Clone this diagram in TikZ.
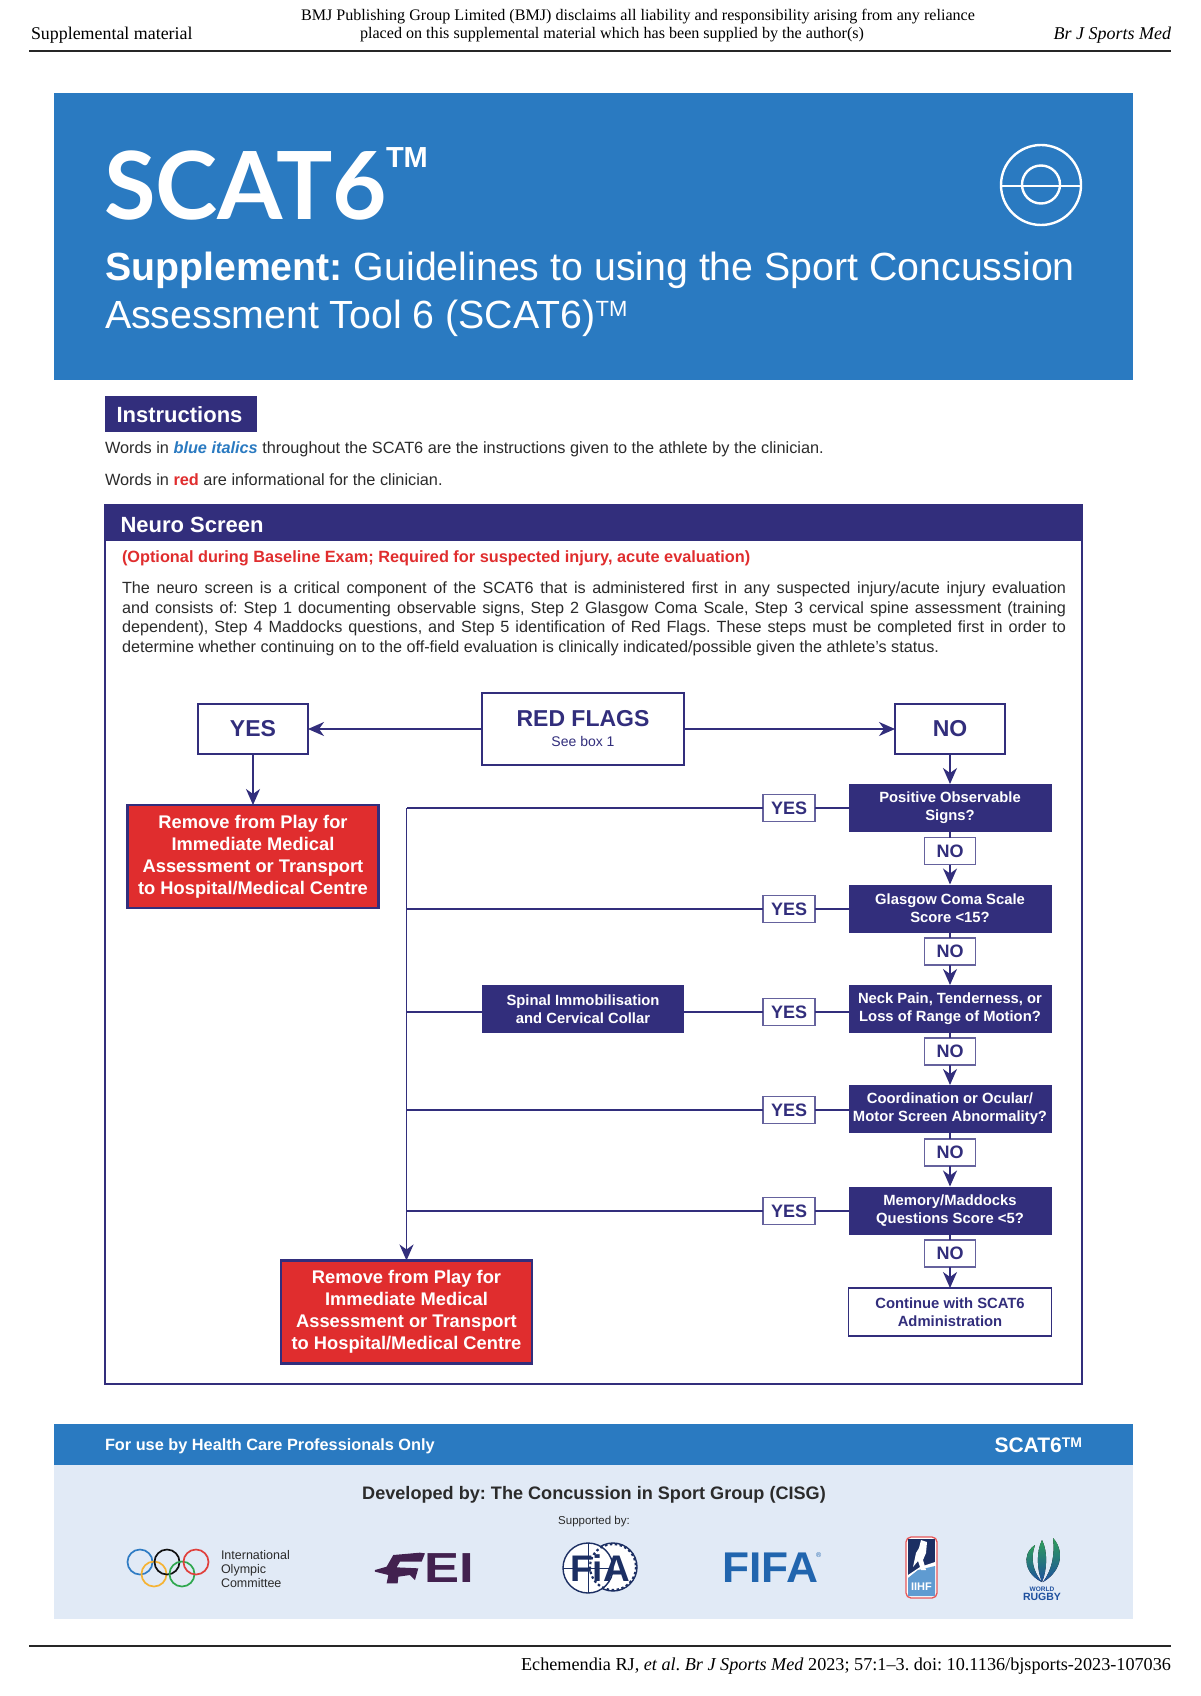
\documentclass[tikz,border=0pt]{standalone}
\usepackage{fontspec}
\setmainfont{Liberation Sans}
\newfontfamily\serifhead{Liberation Serif}
\newfontfamily\titlefont{Lato}
\usetikzlibrary{arrows.meta}
\frenchspacing
\definecolor{navy}{HTML}{322E7C}
\definecolor{scatblue}{HTML}{2A7AC1}
\definecolor{paleblue}{HTML}{E1EAF6}
\definecolor{flagred}{HTML}{E02D2E}
\definecolor{bodygrey}{HTML}{2B2B2B}
\definecolor{feipurple}{HTML}{42214F}
\definecolor{fifablue}{HTML}{2165AE}
\definecolor{fianavy}{HTML}{1C2F63}
\definecolor{wrgreen}{HTML}{2E9E5B}
\definecolor{wrblue}{HTML}{1D4F9E}
\newcommand{\sz}[2]{\fontsize{#1}{#2}\selectfont}
\tikzset{
  every node/.style={inner sep=0pt,outer sep=0pt},
  txt/.style={anchor=west,text=bodygrey},
  conn/.style={draw=navy,line width=1.6pt},
  arr/.style={conn,-{Stealth[length=16pt,width=14pt,inset=5pt]}},
  bigyn/.style={draw=navy,line width=1.5pt,fill=white,text=navy,minimum width=110pt,minimum height=50pt,font=\bfseries\sz{23}{27}},
  smallyn/.style={draw=navy!75,line width=1.2pt,fill=white,text=navy,minimum width=52pt,minimum height=27pt,font=\bfseries\sz{18}{20}},
  qbox/.style={fill=navy,text=white,minimum width=203pt,minimum height=48pt,align=center,font=\bfseries\sz{14.8}{18}},
  redbox/.style={draw=navy,line width=2.2pt,fill=flagred,text=white,minimum width=251pt,minimum height=103pt,align=center,font=\bfseries\sz{18.3}{22}},
}
\begin{document}
\begin{tikzpicture}[x=1pt,y=-1pt]
\useasboundingbox (0,0) rectangle (1200,1696);
\fill[white] (0,0) rectangle (1200,1696);
% running head
\node[txt,text=black,font=\serifhead\sz{17.9}{20}] (runl) at (31,35) {Supplemental material};
\node[anchor=center,text=black,font=\serifhead\sz{16.1}{18}] (disc1) at (638,17) {BMJ Publishing Group Limited (BMJ) disclaims all liability and responsibility arising from any reliance};
\node[anchor=center,text=black,font=\serifhead\sz{16.1}{18}] (disc2) at (612,34.5) {placed on this supplemental material which has been supplied by the author(s)};
\node[anchor=east,text=black,font=\serifhead\itshape\sz{18}{20}] (runr) at (1171,35) {Br J Sports Med};
\draw[line width=1.6pt,draw=black!85] (29,51) -- (1171,51);
% banner
\fill[scatblue] (54,93) rectangle (1133,380);
\node[anchor=west,text=white,font=\titlefont\bfseries\sz{94}{94}] (scat) at (104,186) {SCAT6};
\node[anchor=west,text=white,font=\bfseries\sz{29}{29}] (scattm) at (386,158) {TM};
\draw[white,line width=2.4pt] (1041,185) circle[radius=40];
\draw[white,line width=2.4pt] (1041,184.5) circle[radius=19];
\draw[white,line width=2.4pt] (1001,186) -- (1081,186);
\node[anchor=west,text=white,font=\sz{39.3}{40}] (sup1) at (105,270.5) {\textbf{Supplement:} Guidelines to using the Sport Concussion};
\node[anchor=west,text=white,font=\sz{39.3}{40}] (sup2) at (105,318.5) {Assessment Tool 6 (SCAT6)\raisebox{12pt}{\sz{22}{22}TM}};
% instructions
\fill[navy] (105,396) rectangle (257,432);
\node[text=white,font=\bfseries\sz{22}{24}] (inst) at (179.5,415) {Instructions};
\node[txt,font=\sz{16.3}{18}] (w1) at (105,449.5) {Words in {\color{scatblue}\bfseries\itshape blue italics} throughout the SCAT6 are the instructions given to the athlete by the clinician.};
\node[txt,font=\sz{16.3}{18}] (w2) at (105,479.5) {Words in {\color{flagred}\bfseries red} are informational for the clinician.};
% neuro screen frame
\draw[navy,line width=1.5pt] (105,505) rectangle (1082,1384);
\fill[navy] (105,505) rectangle (1082,541);
\node[anchor=west,text=white,font=\bfseries\sz{22}{24}] (neuro) at (120.5,525) {Neuro Screen};
\node[anchor=west,text=flagred,font=\bfseries\sz{16.3}{18}] (opt) at (122,558.5) {(Optional during Baseline Exam; Required for suspected injury, acute evaluation)};
\node[anchor=north west,text=bodygrey,text width=944pt,align=justify,font=\sz{16.2}{19.8}] (para) at (122,581.5) {The neuro screen is a critical component of the SCAT6 that is administered first in any suspected injury/acute injury evaluation\linebreak and consists of: Step 1 documenting observable signs, Step 2 Glasgow Coma Scale, Step 3 cervical spine assessment (training\linebreak dependent), Step 4 Maddocks questions, and Step 5 identification of Red Flags. These steps must be completed first in order to\linebreak determine whether continuing on to the off-field evaluation is clinically indicated/possible given the athlete's status.};
% flow nodes
\node[draw=navy,line width=2pt,fill=white,minimum width=202pt,minimum height=72pt,align=center,text=navy] (flags) at (583,729) {{\bfseries\sz{23}{27}RED FLAGS}\\[8pt]{\sz{14}{16}See box 1}};
\node[bigyn] (yes0) at (253,729) {YES};
\node[bigyn] (no0) at (950,729) {NO};
\node[redbox] (red1) at (253,856.5) {Remove from Play for\\Immediate Medical\\Assessment or Transport\\to Hospital/Medical Centre};
\node[qbox] (q1) at (950,808) {Positive Observable\\Signs?};
\node[qbox] (q2) at (950,908.5) {Glasgow Coma Scale\\Score <15?};
\node[qbox] (q3) at (950,1009) {Neck Pain, Tenderness, or\\Loss of Range of Motion?};
\node[qbox] (q4) at (950,1109) {Coordination or Ocular/\\Motor Screen Abnormality?};
\node[qbox] (q5) at (950,1210.5) {Memory/Maddocks\\Questions Score <5?};
\node[qbox,fill=white,draw=navy,line width=1.6pt,text=navy] (cont) at (950,1312) {Continue with SCAT6\\Administration};
\node[qbox,minimum width=202pt] (spine) at (583,1009) {Spinal Immobilisation\\and Cervical Collar};
\node[redbox] (red2) at (406.5,1312) {Remove from Play for\\Immediate Medical\\Assessment or Transport\\to Hospital/Medical Centre};
\foreach \n/\y in {y1/808,y2/909,y3/1012,y4/1110,y5/1211}{\node[smallyn] (\n) at (789,\y) {YES};}
\foreach \n/\y in {n1/851,n2/951.5,n3/1051.5,n4/1152.5,n5/1253.5}{\node[smallyn,minimum width=51pt] (\n) at (950,\y) {NO};}
% bus
\coordinate (b1) at (406.5,808);
\coordinate (b2) at (406.5,909);
\coordinate (b3) at (406.5,1012);
\coordinate (b4) at (406.5,1110);
\coordinate (b5) at (406.5,1211);
% connectors
\draw[arr] (flags) -- (yes0);
\draw[arr] (flags) -- (no0);
\draw[arr] (yes0) -- (red1);
\draw[arr] (no0) -- (q1);
\draw[conn] (q1) -- (y1);
\draw[conn] (y1) -- (b1);
\draw[conn] (q2.west |- y2) -- (y2);
\draw[conn] (y2) -- (b2);
\draw[conn] (q3.west |- y3) -- (y3);
\draw[conn] (y3) -- (spine.east |- y3);
\draw[conn] (spine.west |- b3) -- (b3);
\draw[conn] (q4.west |- y4) -- (y4);
\draw[conn] (y4) -- (b4);
\draw[conn] (q5.west |- y5) -- (y5);
\draw[conn] (y5) -- (b5);
\draw[arr] (b1) -- (red2);
\foreach \a/\m/\c in {q1/n1/q2,q2/n2/q3,q3/n3/q4,q4/n4/q5,q5/n5/cont}{
  \draw[conn] (\a) -- (\m);
  \draw[arr] (\m) -- (\c);
}
% footer
\fill[paleblue] (54,1465) rectangle (1133,1619);
\fill[scatblue] (54,1424) rectangle (1133,1465);
\node[anchor=west,text=white,font=\bfseries\sz{16.3}{18}] (fuse) at (105,1446) {For use by Health Care Professionals Only};
\node[anchor=east,text=white,font=\bfseries\sz{21}{23}] (fscat) at (1082,1445) {SCAT6\raisebox{5pt}{\sz{14}{15}TM}};
\node[text=bodygrey,font=\bfseries\sz{18.1}{20}] (dev) at (594,1495) {Developed by: The Concussion in Sport Group (CISG)};
\node[text=bodygrey,font=\sz{11.5}{13}] (supp) at (594,1522) {Supported by:};
% IOC logo
\foreach \cx/\cy/\col in {140/1562/2F7CC4,154/1574/F5B335,167/1562/111111,182/1574/2FA84F,196/1562/E0403C}{
  \definecolor{ringc}{HTML}{\col}
  \draw[ringc,line width=1.7pt] (\cx,\cy) circle[radius=12.5];
}
\node[anchor=north west,align=left,text=bodygrey,font=\sz{12.5}{14.3}] (ioc) at (221,1550) {International\\Olympic\\Committee};
% FEI logo
\begin{scope}[shift={(100,1520)},scale=.3333]
\fill[feipurple] (825,150) -- (860,140) -- (880,105) -- (960,98) -- (975,100) -- (965,125) -- (900,125) -- (890,142) -- (955,145) -- (945,180) -- (930,165) -- (895,170) -- (893,190) -- (860,190) -- (865,165) -- (825,155) -- cycle;
\end{scope}
\node[anchor=west,text=feipurple,font=\bfseries\sz{42}{42}] (fei) at (424,1568) {\scalebox{1.25}[1]{EI}};
% FIA logo
\draw[fianavy,fill=white,line width=1.4pt] (613,1567) circle[radius=24];
\draw[fianavy,fill=white,line width=1.4pt] (588,1568) circle[radius=25];
\draw[fianavy,line width=.6pt] (563,1568) -- (613,1568) (588,1543) -- (588,1593);
\draw[fianavy,line width=2.2pt,dash pattern=on 2.5pt off 2.5pt] (613,1567) circle[radius=23];
\node[text=fianavy,font=\bfseries\sz{37}{37}] (fia) at (600,1568) {FiA};
% FIFA logo
\node[anchor=west,text=fifablue,font=\bfseries\sz{43}{43}] (fifa) at (722,1568) {\scalebox{1.03}[1]{FIFA}};
\node[anchor=west,text=fifablue,font=\sz{7}{8}] (fifar) at (816,1555) {\textregistered};
% IIHF logo
\begin{scope}
\clip[rounded corners=5pt] (906,1537) rectangle (937,1598);
\fill[white] (906,1537) rectangle (937,1598);
\fill[fianavy] (908,1539) rectangle (935,1575);
\fill[white] (908,1575) -- (920,1567) -- (935,1562) -- (935,1578) -- (908,1578) -- cycle;
\fill[scatblue!75] (908,1596) -- (908,1578) -- (918,1570) -- (935,1566) -- (935,1596) -- cycle;
\fill[white] (921,1540) -- (927,1542) -- (926,1553) -- (923,1560) -- (926,1570) -- (921,1570) -- (918,1561) -- (913,1567) -- (916,1553) -- (919,1548) -- cycle;
\end{scope}
\draw[flagred!80,line width=1.3pt,rounded corners=5pt] (906,1537) rectangle (937,1598);
\node[text=white,font=\bfseries\sz{11}{12}] (ihf) at (921.5,1587) {IIHF};
% World Rugby logo
\fill[top color=wrgreen,bottom color=wrblue] (1042,1582) .. controls (1026,1575) and (1020,1555) .. (1035,1545) .. controls (1030,1558) and (1033,1572) .. (1042,1582) -- cycle;
\fill[top color=wrgreen,bottom color=wrblue] (1043,1582) .. controls (1063,1570) and (1064,1550) .. (1053,1538) .. controls (1055,1555) and (1052,1570) .. (1043,1582) -- cycle;
\fill[top color=wrgreen,bottom color=wrblue] (1042,1582) .. controls (1037,1570) and (1036,1552) .. (1042,1540) .. controls (1048,1552) and (1047,1570) .. (1042,1582) -- cycle;
\node[text=wrblue,font=\bfseries\sz{6.5}{7}] (wr) at (1042,1589) {WORLD};
\node[text=wrblue,font=\bfseries\sz{10.5}{11}] (rug) at (1042,1597) {RUGBY};
% bottom
\draw[line width=1.6pt,draw=black!85] (29,1646) -- (1171,1646);
\node[anchor=east,text=black,font=\serifhead\sz{18.2}{20}] (cite) at (1171,1666) {Echemendia RJ, \textit{et al}. \textit{Br J Sports Med} 2023; 57:1–3. doi: 10.1136/bjsports-2023-107036};
\end{tikzpicture}
\end{document}
